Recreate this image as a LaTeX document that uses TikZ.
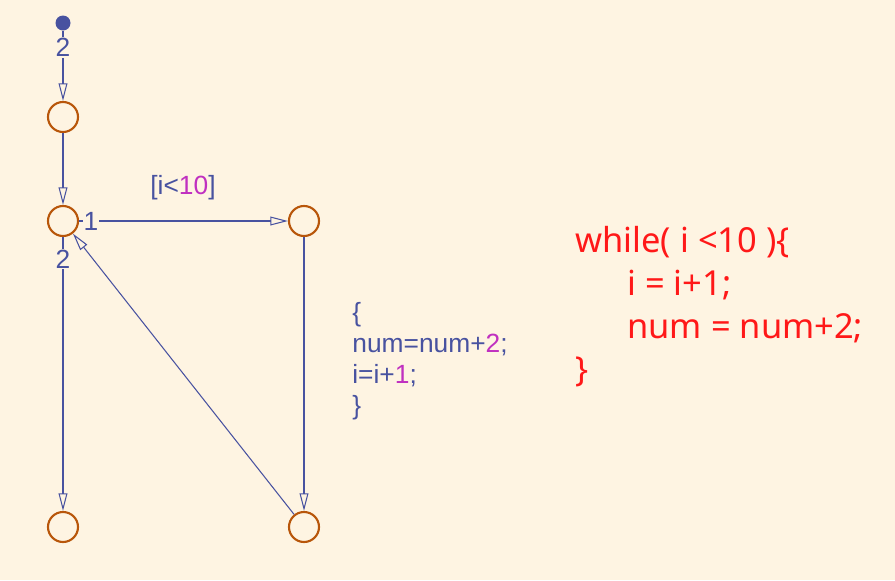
\documentclass[tikz,border=0pt]{standalone}
\usepackage{fontspec}
\setmainfont{Liberation Sans}
\newfontfamily\codefont{Noto Sans}
\usetikzlibrary{arrows.meta}
\definecolor{chartbg}{RGB}{254,244,226}
\definecolor{linkblue}{RGB}{72,82,160}
\definecolor{junctorange}{RGB}{184,86,10}
\definecolor{numpink}{RGB}{192,48,192}
\definecolor{codered}{RGB}{255,24,24}
\tikzset{
  junct/.style={circle, draw=junctorange, line width=1.2pt, minimum size=0.6cm, inner sep=0pt},
  lbl/.style={text=linkblue, fill=chartbg, inner sep=0.5pt, font=\fontsize{15}{18}\selectfont},
  link/.style={draw=linkblue, line width=0.6pt, -{Triangle[open, length=10pt, width=5pt]}},
  redline/.style={anchor=base west, inner sep=0pt, text=codered, font=\codefont\fontsize{19.6}{24}\selectfont}
}
\newcommand{\pk}[1]{\textcolor{numpink}{#1}}

\begin{document}
\begin{tikzpicture}
\fill[chartbg] (0,0) rectangle (17.9,-11.6);
\useasboundingbox (0,0) rectangle (17.9,-11.6);
\path (1.26,-0.46) node [circle, fill=linkblue, minimum size=0.3cm, inner sep=0pt] (start) {}
      (1.26,-2.34) node [junct] (j1) {}
      (1.26,-4.42) node [junct] (j2) {}
      (6.08,-4.42) node [junct] (j3) {}
      (1.26,-10.54) node [junct] (j4) {}
      (6.08,-10.54) node [junct] (j5) {}
      ;
\draw [link] (start) -- (j1);
\draw [link] (j1) -- (j2);
\draw [link] (j2) -- (j3);
\draw [link] (j3) -- (j5);
\draw [link] (j2) -- (j4);
\draw [link] (j5) -- (j2);
% transition labels
\path (1.26,-0.95) node [lbl] (n-start) {2}
      (1.82,-4.42) node [lbl] (n-first) {1}
      (1.26,-5.18) node [lbl] (n-second) {2}
      (3.66,-3.88) node [lbl, anchor=base, fill=none] (guard) {[i<\pk{10}]}
      ;
\path (7.04,-6.42) node [lbl, anchor=base west, fill=none, inner sep=0pt] (act1) {\{}
      (7.04,-7.04) node [lbl, anchor=base west, fill=none, inner sep=0pt] (act2) {num=num+\pk{2};}
      (7.04,-7.66) node [lbl, anchor=base west, fill=none, inner sep=0pt] (act3) {i=i+\pk{1};}
      (7.04,-8.28) node [lbl, anchor=base west, fill=none, inner sep=0pt] (act4) {\}}
      ;
% the same loop as code
\path (11.5,-5.04) node [redline] (c1) {while( i <10 )\{}
      (12.54,-5.9) node [redline] (c2) {i = i+1;}
      (12.54,-6.76) node [redline] (c3) {num = num+2;}
      (11.5,-7.62) node [redline] (c4) {\}}
      ;
\end{tikzpicture}
\end{document}
